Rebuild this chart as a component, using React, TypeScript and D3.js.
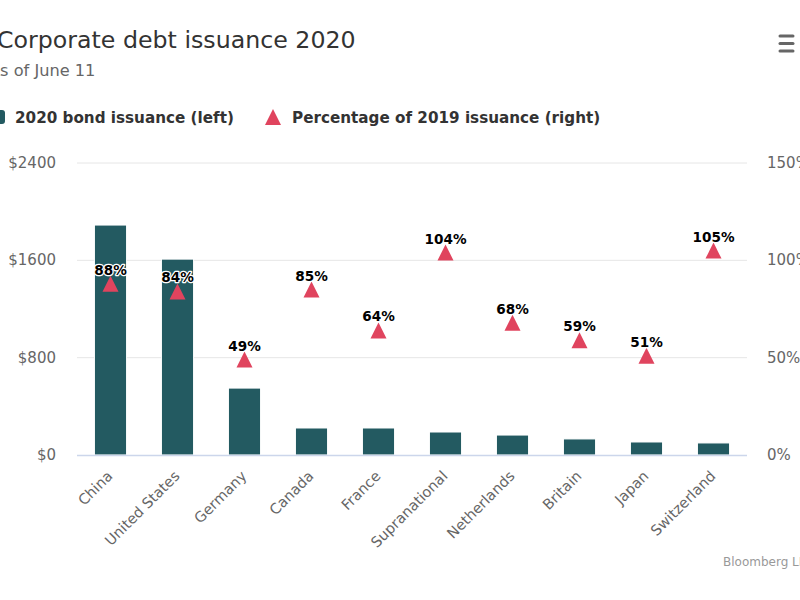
import React from 'react';
import * as d3 from 'd3';

const countries = [
  'China', 'United States', 'Germany', 'Canada', 'France',
  'Supranational', 'Netherlands', 'Britain', 'Japan', 'Switzerland',
];
// 2020 bond issuance, $bn (left axis)
const issuance = [1890, 1610, 550, 222, 222, 189, 164, 132, 107, 99];
// percentage of 2019 issuance (right axis)
const pctOf2019 = [88, 84, 49, 85, 64, 104, 68, 59, 51, 105];

const leftTicks = [0, 800, 1600, 2400];
const rightTicks = [0, 50, 100, 150];

const W = 800;
const H = 600;
const plot = { left: 77, right: 747, top: 163, bottom: 455 };
const font = '"DejaVu Sans", Verdana, sans-serif';
const barColor = '#235a61';
const markerColor = '#e0445e';

// isosceles triangle, as wide as it is tall
const triangle = {
  draw(ctx: any, size: number) {
    const r = Math.sqrt(size) / 2;
    ctx.moveTo(0, -r);
    ctx.lineTo(r, r);
    ctx.lineTo(-r, r);
    ctx.closePath();
  },
};

export default function App() {
  const x = d3.scaleBand<string>().domain(countries).range([plot.left, plot.right]);
  const yL = d3.scaleLinear().domain([0, 2400]).range([plot.bottom, plot.top]);
  const yR = d3.scaleLinear().domain([0, 150]).range([plot.bottom, plot.top]);
  const barW = x.bandwidth() * 0.48;
  const tri = d3.symbol(triangle as any, 256)() || '';

  return (
    <div style={{ position: 'absolute', left: 0, top: 0 }}>
      <svg width={W} height={H} style={{ fontFamily: font, display: 'block' }}>
        <rect width={W} height={H} fill="#fff" />

        <text x={-3} y={48} fontSize={23.7} fill="#333">Corporate debt issuance 2020</text>
        <text x={-11} y={76} fontSize={16.2} fill="#666">As of June 11</text>

        {/* menu icon */}
        {[0, 1, 2].map((i) => (
          <line key={i} x1={780} x2={793} y1={36 + i * 7.5} y2={36 + i * 7.5}
            stroke="#666" strokeWidth={3} strokeLinecap="round" />
        ))}

        {/* legend */}
        <rect x={-8} y={110} width={13} height={14} rx={3} fill={barColor} />
        <text x={15} y={123} fontSize={15.2} fontWeight="bold" fill="#333">2020 bond issuance (left)</text>
        <path d={tri} transform="translate(273,117)" fill={markerColor} />
        <text x={292} y={123} fontSize={15.2} fontWeight="bold" fill="#333">Percentage of 2019 issuance (right)</text>

        {/* grid */}
        {leftTicks.filter((t) => t > 0).map((t) => (
          <line key={t} x1={plot.left} x2={plot.right} y1={yL(t)} y2={yL(t)} stroke="#e6e6e6" />
        ))}

        {leftTicks.map((t) => (
          <text key={t} x={56} y={yL(t) + 5} textAnchor="end" fontSize={15} fill="#666">${t}</text>
        ))}
        {rightTicks.map((t) => (
          <text key={t} x={767} y={yR(t) + 5} fontSize={15} fill="#666">{t}%</text>
        ))}

        {/* bars */}
        {countries.map((c, i) => (
          <rect key={c} x={(x(c) || 0) + (x.bandwidth() - barW) / 2} y={yL(issuance[i])}
            width={barW} height={yL(0) - yL(issuance[i])} fill={barColor}
            stroke="#fff" strokeWidth={1} />
        ))}

        <line x1={plot.left} x2={plot.right} y1={plot.bottom + 0.5} y2={plot.bottom + 0.5}
          stroke="#ccd6eb" strokeWidth={1.5} />

        {/* x labels */}
        {countries.map((c) => {
          const cx = (x(c) || 0) + x.bandwidth() / 2 + 3;
          return (
            <text key={c} transform={`translate(${cx},477) rotate(-45)`} textAnchor="end"
              fontSize={14.5} fill="#666">{c}</text>
          );
        })}

        {/* triangles + labels */}
        {countries.map((c, i) => {
          const cx = (x(c) || 0) + x.bandwidth() / 2;
          const cy = yR(pctOf2019[i]);
          return (
            <g key={c}>
              <path d={tri} transform={`translate(${cx},${cy})`} fill={markerColor} />
              <text x={cx} y={cy - 9} textAnchor="middle" fontSize={13.6} fontWeight="bold"
                fill="#000" stroke="#fff" strokeWidth={2.5} strokeLinejoin="round"
                style={{ paintOrder: 'stroke' }}>{pctOf2019[i]}%</text>
            </g>
          );
        })}

        <text x={723} y={566} fontSize={12} fill="#999">Bloomberg LP</text>
      </svg>
    </div>
  );
}
